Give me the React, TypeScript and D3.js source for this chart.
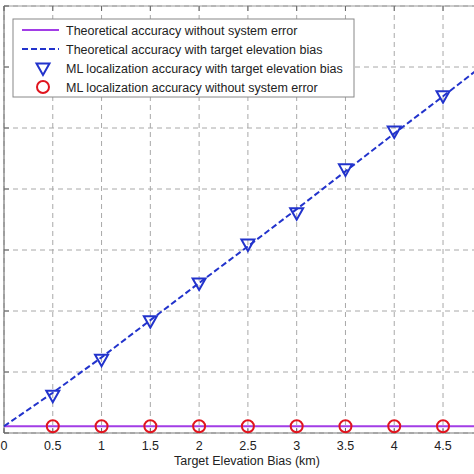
import React from "react";
import * as d3 from "d3";

const xTicks = [0, 0.5, 1, 1.5, 2, 2.5, 3, 3.5, 4, 4.5, 5];
const xTickLabels = ["0", "0.5", "1", "1.5", "2", "2.5", "3", "3.5", "4", "4.5", ""];
const yTicks = [0, 1, 2, 3, 4, 5, 6, 7];

const theoX = [0, 0.5, 1, 1.5, 2, 2.5, 3, 3.5, 4, 4.5, 5];
const theoNoErr = [0.11, 0.11, 0.11, 0.11, 0.11, 0.11, 0.11, 0.11, 0.11, 0.11, 0.11];
const theoBias = [0.11, 0.66, 1.24, 1.85, 2.46, 3.06, 3.67, 4.29, 4.91, 5.52, 6.14];

const mlX = [0.5, 1, 1.5, 2, 2.5, 3, 3.5, 4, 4.5];
const mlBias = [0.62, 1.21, 1.84, 2.46, 3.1, 3.61, 4.33, 4.95, 5.53];
const mlNoErr = [0.11, 0.11, 0.11, 0.11, 0.11, 0.11, 0.11, 0.11, 0.11];

const legendLabels = [
  "Theoretical accuracy without system error",
  "Theoretical accuracy with target elevation bias",
  "ML localization accuracy with target elevation bias",
  "ML localization accuracy without system error",
];

const PURPLE = "#a23de6";
const BLUE = "#2233cc";
const RED = "#e0141e";
const FONT = "Liberation Sans, Arial, sans-serif";

function Tri({ cx, cy }: { cx: number; cy: number }) {
  const w = 6.5;
  const hTop = 4.5;
  const hBot = 7;
  return (
    <path
      d={`M${cx - w},${cy - hTop}L${cx + w},${cy - hTop}L${cx},${cy + hBot}Z`}
      fill="none"
      stroke={BLUE}
      strokeWidth={2}
    />
  );
}

export default function App() {
  const W = 474;
  const H = 474;
  const x = d3.scaleLinear().domain([0, 5]).range([4, 491.8]);
  const y = d3.scaleLinear().domain([0, 7]).range([433, 6]);
  const top = y(7);
  const bottom = y(0);
  const left = x(0);
  const right = x(5);

  const line = d3
    .line<[number, number]>()
    .x((d) => x(d[0]))
    .y((d) => y(d[1]));

  const noErrPts = theoX.map((v, i) => [v, theoNoErr[i]] as [number, number]);
  const biasPts = theoX.map((v, i) => [v, theoBias[i]] as [number, number]);

  const lg = { x0: 13, y0: 19, x1: 354, y1: 97 };
  const rowY = [30, 49, 68, 87];

  return (
    <svg
      width={W}
      height={H}
      style={{ position: "fixed", left: 0, top: 0, background: "#fff" }}
      fontFamily={FONT}
    >
      <rect x={0} y={0} width={W} height={H} fill="#fff" />
      {/* grid */}
      {xTicks.map((t) => (
        <line
          key={"gx" + t}
          x1={x(t)}
          x2={x(t)}
          y1={top}
          y2={bottom}
          stroke="#a8a8a8"
          strokeWidth={1}
          strokeDasharray="5,4"
        />
      ))}
      {yTicks.map((t) => (
        <line
          key={"gy" + t}
          x1={left}
          x2={right}
          y1={y(t)}
          y2={y(t)}
          stroke="#a8a8a8"
          strokeWidth={1}
          strokeDasharray="5,4"
        />
      ))}
      {/* axes box */}
      <line x1={left} x2={left} y1={top} y2={bottom} stroke="#7a7a7a" strokeWidth={1.2} />
      <line x1={left} x2={right} y1={bottom} y2={bottom} stroke="#7a7a7a" strokeWidth={1.2} />
      <line x1={left} x2={right} y1={top} y2={top} stroke="#9a9a9a" strokeWidth={1} />
      {/* ticks */}
      {xTicks.map((t) => (
        <g key={"tx" + t}>
          <line x1={x(t)} x2={x(t)} y1={bottom} y2={bottom - 5} stroke="#666" strokeWidth={1} />
          <line x1={x(t)} x2={x(t)} y1={top} y2={top + 5} stroke="#666" strokeWidth={1} />
        </g>
      ))}
      {yTicks.map((t) => (
        <line key={"ty" + t} x1={left} x2={left + 5} y1={y(t)} y2={y(t)} stroke="#666" strokeWidth={1} />
      ))}
      {/* tick labels */}
      {xTicks.map((t, i) =>
        xTickLabels[i] ? (
          <text
            key={"lx" + t}
            x={x(t)}
            y={bottom + 17}
            textAnchor="middle"
            fontSize={12.5}
            fill="#222"
          >
            {xTickLabels[i]}
          </text>
        ) : null
      )}
      <text x={247} y={465} textAnchor="middle" fontSize={12.5} fill="#222">
        Target Elevation Bias (km)
      </text>
      {/* series */}
      <path d={line(noErrPts) || ""} fill="none" stroke={PURPLE} strokeWidth={2} />
      <path
        d={line(biasPts) || ""}
        fill="none"
        stroke={BLUE}
        strokeWidth={2}
        strokeDasharray="6,3"
      />
      {mlX.map((v, i) => (
        <Tri key={"tr" + v} cx={x(v)} cy={y(mlBias[i])} />
      ))}
      {mlX.map((v, i) => (
        <circle key={"c" + v} cx={x(v)} cy={y(mlNoErr[i])} r={6} fill="none" stroke={RED} strokeWidth={2} />
      ))}
      {/* legend */}
      <rect
        x={lg.x0}
        y={lg.y0}
        width={lg.x1 - lg.x0}
        height={lg.y1 - lg.y0}
        fill="#fff"
        stroke="#888"
        strokeWidth={1}
      />
      <line x1={22} x2={59} y1={rowY[0]} y2={rowY[0]} stroke={PURPLE} strokeWidth={2} />
      <line x1={22} x2={59} y1={rowY[1]} y2={rowY[1]} stroke={BLUE} strokeWidth={2} strokeDasharray="6,3" />
      <Tri cx={43} cy={rowY[2]} />
      <circle cx={43} cy={rowY[3]} r={6} fill="none" stroke={RED} strokeWidth={2} />
      {legendLabels.map((s, i) => (
        <text key={s} x={66} y={rowY[i] + 4.5} fontSize={12.5} fill="#222">
          {s}
        </text>
      ))}
    </svg>
  );
}
